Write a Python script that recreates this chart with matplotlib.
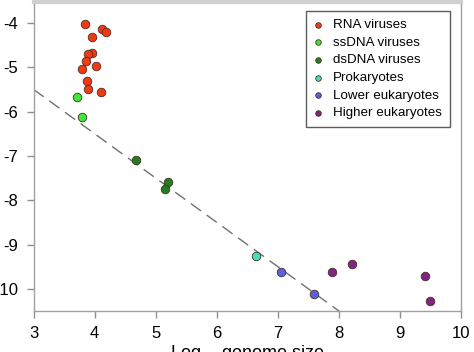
import matplotlib
matplotlib.use("Agg")
import matplotlib.pyplot as plt
import numpy as np

plt.rcParams['font.family'] = ['Liberation Sans', 'DejaVu Sans']
plt.rcParams['axes.unicode_minus'] = False

groups = ["RNA viruses", "ssDNA viruses", "dsDNA viruses", "Prokaryotes",
          "Lower eukaryotes", "Higher eukaryotes"]
colors = ["#f03a14", "#3de83a", "#1f7f22", "#3ee0c0", "#5a62e0", "#7e2585"]

rna_x = [3.84, 4.12, 4.19, 3.95, 3.95, 3.90, 3.86, 4.03, 3.80, 3.87, 3.90, 4.11]
rna_y = [-4.02, -4.13, -4.20, -4.32, -4.67, -4.71, -4.86, -4.97, -5.04, -5.32, -5.48, -5.55]
ssdna_x = [3.71, 3.79]
ssdna_y = [-5.68, -6.13]
dsdna_x = [4.67, 5.21, 5.16]
dsdna_y = [-7.10, -7.60, -7.74]
prok_x = [6.64]
prok_y = [-9.25]
loweuk_x = [7.06, 7.60]
loweuk_y = [-9.63, -10.12]
higheuk_x = [7.88, 8.21, 9.41, 9.49]
higheuk_y = [-9.62, -9.44, -9.71, -10.27]

fit_intercept = -2.5
fit_slope = -1.0

xs = [rna_x, ssdna_x, dsdna_x, prok_x, loweuk_x, higheuk_x]
ys = [rna_y, ssdna_y, dsdna_y, prok_y, loweuk_y, higheuk_y]

fig = plt.figure(figsize=(4.74, 3.52), dpi=100)
ax = fig.add_axes([0.0707, 0.1165, 0.902, 0.8775])

lx = np.array([3.0, 10.0])
ax.plot(lx, fit_intercept + fit_slope * lx, color="#707070", lw=1.0,
        dashes=(9, 5), zorder=1)

for g, c, x, y in zip(groups, colors, xs, ys):
    ax.scatter(x, y, s=38, color=c, edgecolors="#4a3020", linewidths=0.6,
               label=g, zorder=3)

ax.set_xlim(3, 10)
ax.set_ylim(-10.5, -3.53)
ax.set_xticks(range(3, 11))
ax.set_yticks([-4, -5, -6, -7, -8, -9, -10])
ax.tick_params(axis='both', direction='out', length=5, width=1, color="#909090",
               labelsize=12, pad=6)
for s in ['left', 'bottom', 'right']:
    ax.spines[s].set_color("#a0a0a0")
    ax.spines[s].set_linewidth(1.0)
ax.spines['top'].set_color("#d0d0d0")
ax.spines['top'].set_linewidth(3)

ax.set_xlabel(r"Log$_{10}$ genome size", fontsize=13, labelpad=1)

leg = ax.legend(loc="upper right", bbox_to_anchor=(0.983, 0.985), fontsize=9.6,
                frameon=True, fancybox=False, markerscale=0.65,
                handletextpad=0.8, labelspacing=0.4, borderpad=0.6,
                handlelength=0.6, borderaxespad=0.3)
leg.get_frame().set_edgecolor("#333333")
leg.get_frame().set_linewidth(1.0)

fig.savefig("out.png", dpi=100)
